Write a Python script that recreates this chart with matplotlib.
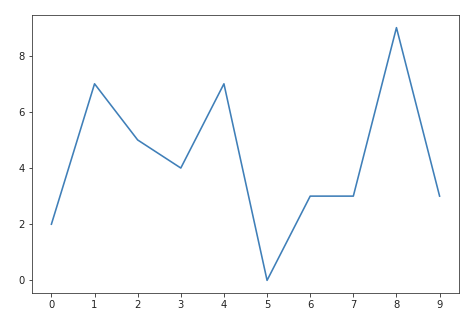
import matplotlib
matplotlib.use("Agg")
import matplotlib.pyplot as plt

x_values = [0, 1, 2, 3, 4, 5, 6, 7, 8, 9]
y_values = [2, 7, 5, 4, 7, 0, 3, 3, 9, 3]

fig = plt.figure(figsize=(474/72, 327/72), dpi=72)
ax = fig.add_axes([32/474, 1-293/327, (459-32)/474, (293-15)/327])
ax.plot(x_values, y_values, color="#3f7fb8", linewidth=1.6)
ax.set_xticks(x_values)
ax.set_yticks([0, 2, 4, 6, 8])
ax.tick_params(labelsize=10, colors="#222222")
for s in ax.spines.values():
    s.set_color("#333333")
fig.savefig("out.png", dpi=72)
